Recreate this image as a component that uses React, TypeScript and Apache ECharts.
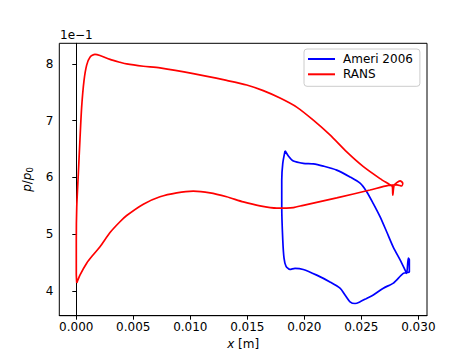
import React, { useEffect, useRef } from "react";
import * as echarts from "echarts";

// x [m], p/p0 in units of 1e-1
const ameriX = [0.01831, 0.0186, 0.01904, 0.01991, 0.02079, 0.02167, 0.02284, 0.02401, 0.02489, 0.02547, 0.02605, 0.02664, 0.02723, 0.02781, 0.0284, 0.02884, 0.02898, 0.02912, 0.02921, 0.02921, 0.02868, 0.02781, 0.02693, 0.02605, 0.02547, 0.02489, 0.02445, 0.02401, 0.02357, 0.02313, 0.02225, 0.02109, 0.01991, 0.01918, 0.01874, 0.01839, 0.01822, 0.01811, 0.01802, 0.01802, 0.01811, 0.01831];
const ameriY = [6.47, 6.38, 6.29, 6.25, 6.24, 6.2, 6.13, 6.01, 5.9, 5.75, 5.54, 5.31, 5.04, 4.77, 4.55, 4.37, 4.31, 4.58, 4.55, 4.34, 4.31, 4.14, 4.05, 3.93, 3.87, 3.81, 3.78, 3.81, 3.93, 4.05, 4.16, 4.28, 4.38, 4.4, 4.38, 4.44, 4.58, 4.9, 5.48, 5.95, 6.25, 6.47];

const ransX = [0.00004, 0.0, 0.0, 0.00004, 0.00018, 0.00032, 0.00047, 0.00068, 0.00091, 0.0012, 0.00164, 0.00208, 0.00296, 0.00383, 0.00442, 0.00588, 0.00734, 0.01026, 0.01319, 0.01495, 0.0164, 0.01787, 0.01933, 0.02079, 0.02225, 0.02372, 0.02518, 0.02664, 0.02752, 0.02772, 0.02776, 0.02787, 0.02811, 0.0284, 0.02863, 0.02854, 0.02813, 0.02737, 0.02576, 0.02284, 0.01991, 0.01904, 0.01758, 0.01611, 0.01465, 0.01319, 0.01173, 0.01026, 0.00881, 0.00734, 0.00588, 0.00442, 0.00383, 0.00296, 0.00208, 0.00149, 0.00091, 0.00032, 0.00004];
const ransY = [4.14, 4.31, 4.9, 5.48, 6.07, 6.66, 7.24, 7.71, 7.98, 8.12, 8.17, 8.15, 8.08, 8.03, 8.0, 7.96, 7.93, 7.83, 7.71, 7.63, 7.53, 7.4, 7.24, 7.01, 6.75, 6.45, 6.19, 5.98, 5.87, 5.84, 5.69, 5.86, 5.91, 5.94, 5.9, 5.85, 5.87, 5.86, 5.78, 5.64, 5.51, 5.47, 5.46, 5.5, 5.57, 5.66, 5.73, 5.76, 5.73, 5.66, 5.53, 5.33, 5.22, 5.03, 4.78, 4.64, 4.49, 4.28, 4.14];

const xTicks = [0, 0.005, 0.01, 0.015, 0.02, 0.025, 0.03];
const yTicks = [4, 5, 6, 7, 8];

const FONT = "DejaVu Sans";

export default function App() {
  const ref = useRef<HTMLDivElement>(null);
  useEffect(() => {
    if (!ref.current) return;
    const chart = echarts.init(ref.current, undefined, { renderer: "svg" });
    const zip = (xs: number[], ys: number[]) => xs.map((x, i) => [x, ys[i]]);
    chart.setOption({
      animation: false,
      backgroundColor: "#fff",
      textStyle: { fontFamily: FONT },
      grid: {
        left: 59.3,
        top: 43.3,
        right: 47,
        bottom: 39.3,
        show: true,
        borderColor: "#000",
        borderWidth: 1,
        backgroundColor: "transparent",
      },
      legend: {
        left: 304,
        top: 49,
        orient: "vertical",
        icon: "rect",
        itemWidth: 27,
        itemHeight: 2,
        itemGap: 1.3,
        padding: [3, 7, 5, 4],
        borderColor: "#cccccc",
        borderWidth: 1,
        borderRadius: 3,
        backgroundColor: "rgba(255,255,255,0.8)",
        textStyle: { fontFamily: FONT, fontSize: 12, color: "#000", lineHeight: 14, padding: [0, 0, 0, 3] },
        data: ["Ameri 2006", "RANS"],
      },
      graphic: [
        {
          type: "text",
          left: 60,
          top: 29,
          style: { text: "1e\u22121", fontFamily: FONT, fontSize: 12, fill: "#000" },
        },
      ],
      xAxis: {
        type: "value",
        min: -0.00149,
        max: 0.03076,
        name: "{i|x} [m]",
        nameLocation: "middle",
        nameGap: 21,
        nameTextStyle: {
          fontFamily: FONT,
          fontSize: 12,
          color: "#000",
          rich: { i: { fontStyle: "italic", fontFamily: FONT, fontSize: 12, color: "#000" } },
        },
        splitLine: { show: false },
        axisLine: { show: true, lineStyle: { color: "#000", width: 1 } },
        axisTick: { show: true, length: 4, lineStyle: { color: "#000", width: 1 }, customValues: xTicks },
        axisLabel: {
          margin: 5,
          fontFamily: FONT,
          fontSize: 12,
          color: "#000",
          customValues: xTicks,
          formatter: (v: number) => v.toFixed(3),
        },
      },
      yAxis: {
        type: "value",
        min: 3.565,
        max: 8.364,
        name: "{i|p}/{i|p}{s|0}",
        nameLocation: "middle",
        nameRotate: 90,
        nameGap: 20,
        nameTextStyle: {
          fontFamily: FONT,
          fontSize: 12,
          color: "#000",
          rich: {
            i: { fontStyle: "italic", fontFamily: FONT, fontSize: 12, color: "#000" },
            s: { fontFamily: FONT, fontSize: 8.5, color: "#000", verticalAlign: "bottom", padding: [6, 0, 0, 0] },
          },
        },
        splitLine: { show: false },
        axisLine: { show: true, lineStyle: { color: "#000", width: 1 } },
        axisTick: { show: true, length: 4, lineStyle: { color: "#000", width: 1 }, customValues: yTicks },
        axisLabel: {
          margin: 6,
          fontFamily: FONT,
          fontSize: 12,
          color: "#000",
          customValues: yTicks,
          formatter: (v: number) => String(Math.round(v)),
        },
      },
      series: [
        {
          name: "Ameri 2006",
          type: "line",
          data: zip(ameriX, ameriY),
          showSymbol: false,
          symbol: "none",
          smooth: 0.25,
          lineStyle: { color: "#0000ff", width: 1.7 },
          itemStyle: { color: "#0000ff" },
        },
        {
          name: "RANS",
          type: "line",
          data: zip(ransX, ransY),
          showSymbol: false,
          symbol: "none",
          smooth: 0.25,
          lineStyle: { color: "#ff0000", width: 1.7 },
          itemStyle: { color: "#ff0000" },
        },
      ],
    });
    return () => chart.dispose();
  }, []);
  return <div ref={ref} style={{ width: 474, height: 355, position: "absolute", left: 0, top: 0 }} />;
}
